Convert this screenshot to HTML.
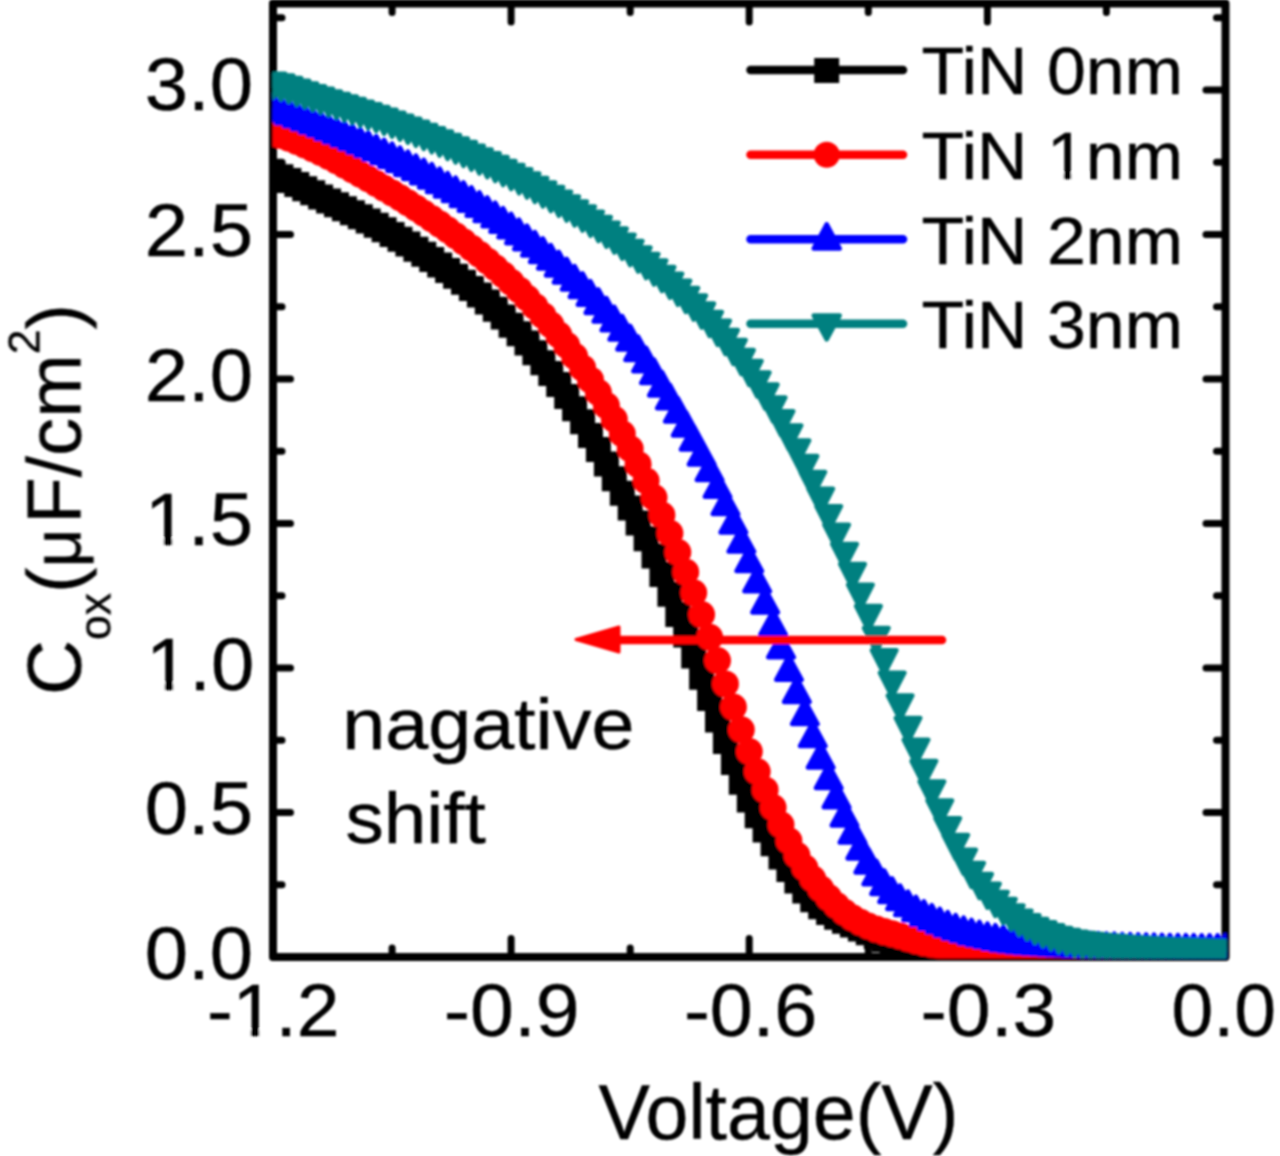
<!DOCTYPE html>
<html><head><meta charset="utf-8"><style>html,body{margin:0;padding:0;background:#fff;}body{width:1280px;height:1156px;position:relative;overflow:hidden;}</style></head>
<body>
<svg width="1280" height="1156" viewBox="0 0 1280 1156" style="position:absolute;left:0;top:0"><defs><clipPath id="pc"><rect x="272.5" y="4" width="954" height="954.5"/></clipPath><filter id="bl" x="-5%" y="-5%" width="110%" height="110%"><feGaussianBlur stdDeviation="1.2"/></filter></defs><rect width="1280" height="1156" fill="#fff"/><g filter="url(#bl)"><path d="M273.0 957.0H290.5M1225.5 957.0H1206.0M273.0 812.5H290.5M1225.5 812.5H1206.0M273.0 668.0H290.5M1225.5 668.0H1206.0M273.0 523.5H290.5M1225.5 523.5H1206.0M273.0 379.0H290.5M1225.5 379.0H1206.0M273.0 234.5H290.5M1225.5 234.5H1206.0M273.0 90.0H290.5M1225.5 90.0H1206.0M273.0 884.8H282.0M1225.5 884.8H1216.5M273.0 740.2H282.0M1225.5 740.2H1216.5M273.0 595.8H282.0M1225.5 595.8H1216.5M273.0 451.2H282.0M1225.5 451.2H1216.5M273.0 306.8H282.0M1225.5 306.8H1216.5M273.0 162.2H282.0M1225.5 162.2H1216.5M273.0 17.8H282.0M1225.5 17.8H1216.5M273.0 957.0V938.5M273.0 3.4V21.9M511.1 957.0V938.5M511.1 3.4V21.9M749.2 957.0V938.5M749.2 3.4V21.9M987.4 957.0V938.5M987.4 3.4V21.9M1225.5 957.0V938.5M1225.5 3.4V21.9M392.1 957.0V948.0M392.1 3.4V12.4M630.2 957.0V948.0M630.2 3.4V12.4M868.3 957.0V948.0M868.3 3.4V12.4M1106.4 957.0V948.0M1106.4 3.4V12.4" stroke="#000" stroke-width="7" stroke-linecap="round" fill="none"/><rect x="273.0" y="3.4" width="952.5" height="953.6" fill="none" stroke="#000" stroke-width="8" stroke-linejoin="round"/><g clip-path="url(#pc)"><path d="M260.5 161.4h25v25h-25zM268.4 164.2h25v25h-25zM276.4 168.0h25v25h-25zM284.3 172.1h25v25h-25zM292.2 176.2h25v25h-25zM300.2 180.3h25v25h-25zM308.1 184.4h25v25h-25zM316.1 188.4h25v25h-25zM324.0 192.3h25v25h-25zM331.9 196.2h25v25h-25zM339.9 200.2h25v25h-25zM347.8 204.2h25v25h-25zM355.7 208.4h25v25h-25zM363.7 212.8h25v25h-25zM371.6 217.3h25v25h-25zM379.6 222.0h25v25h-25zM387.5 226.8h25v25h-25zM395.4 231.6h25v25h-25zM403.4 236.7h25v25h-25zM411.3 241.8h25v25h-25zM419.2 247.0h25v25h-25zM427.2 252.4h25v25h-25zM435.1 258.0h25v25h-25zM443.1 263.7h25v25h-25zM451.0 269.7h25v25h-25zM458.9 276.0h25v25h-25zM466.9 282.6h25v25h-25zM474.8 289.5h25v25h-25zM482.8 296.8h25v25h-25zM490.7 304.5h25v25h-25zM498.6 312.7h25v25h-25zM506.6 321.3h25v25h-25zM514.5 330.5h25v25h-25zM522.4 340.2h25v25h-25zM530.4 350.3h25v25h-25zM538.3 361.0h25v25h-25zM546.2 372.1h25v25h-25zM554.2 383.9h25v25h-25zM562.1 396.2h25v25h-25zM570.1 409.3h25v25h-25zM578.0 422.9h25v25h-25zM585.9 437.1h25v25h-25zM593.9 451.6h25v25h-25zM601.8 466.2h25v25h-25zM609.8 480.8h25v25h-25zM617.7 495.5h25v25h-25zM625.6 510.5h25v25h-25zM633.6 526.3h25v25h-25zM641.5 543.4h25v25h-25zM649.4 562.0h25v25h-25zM657.4 581.7h25v25h-25zM665.3 601.9h25v25h-25zM673.2 622.5h25v25h-25zM681.2 643.6h25v25h-25zM689.1 664.8h25v25h-25zM697.1 686.1h25v25h-25zM705.0 707.5h25v25h-25zM712.9 728.9h25v25h-25zM720.9 749.9h25v25h-25zM728.8 769.7h25v25h-25zM736.8 787.6h25v25h-25zM744.7 803.3h25v25h-25zM752.6 817.5h25v25h-25zM760.6 831.2h25v25h-25zM768.5 844.5h25v25h-25zM776.4 857.1h25v25h-25zM784.4 868.5h25v25h-25zM792.3 878.5h25v25h-25zM800.2 887.2h25v25h-25zM808.2 894.3h25v25h-25zM816.1 900.1h25v25h-25zM824.1 904.8h25v25h-25zM832.0 908.7h25v25h-25zM839.9 912.5h25v25h-25zM847.9 916.4h25v25h-25zM855.8 920.3h25v25h-25zM863.8 924.0h25v25h-25zM871.7 927.3h25v25h-25zM879.6 930.0h25v25h-25zM887.6 932.2h25v25h-25zM895.5 933.9h25v25h-25zM903.4 935.4h25v25h-25zM911.4 936.7h25v25h-25zM919.3 937.8h25v25h-25zM927.2 938.7h25v25h-25zM935.2 939.6h25v25h-25zM943.1 940.3h25v25h-25zM951.1 940.9h25v25h-25zM959.0 941.4h25v25h-25zM966.9 941.8h25v25h-25zM974.9 942.1h25v25h-25zM982.8 942.3h25v25h-25zM990.8 942.5h25v25h-25zM998.7 942.7h25v25h-25zM1006.6 942.9h25v25h-25zM1014.6 943.0h25v25h-25zM1022.5 943.1h25v25h-25zM1030.4 943.3h25v25h-25zM1038.4 943.4h25v25h-25zM1046.3 943.5h25v25h-25zM1054.2 943.6h25v25h-25zM1062.2 943.7h25v25h-25zM1070.1 943.8h25v25h-25zM1078.1 943.8h25v25h-25zM1086.0 943.9h25v25h-25zM1093.9 944.0h25v25h-25zM1101.9 944.1h25v25h-25zM1109.8 944.1h25v25h-25zM1117.8 944.2h25v25h-25zM1125.7 944.2h25v25h-25zM1133.6 944.3h25v25h-25zM1141.6 944.3h25v25h-25zM1149.5 944.4h25v25h-25zM1157.4 944.4h25v25h-25zM1165.4 944.4h25v25h-25zM1173.3 944.4h25v25h-25zM1181.2 944.5h25v25h-25zM1189.2 944.5h25v25h-25zM1197.1 944.5h25v25h-25zM1205.1 944.5h25v25h-25zM1213.0 944.5h25v25h-25z" fill="#000000"/><path d="M259.5 133.4a13.5 13.5 0 1 0 27 0a13.5 13.5 0 1 0 -27 0zM267.4 135.4a13.5 13.5 0 1 0 27 0a13.5 13.5 0 1 0 -27 0zM275.4 138.3a13.5 13.5 0 1 0 27 0a13.5 13.5 0 1 0 -27 0zM283.3 141.5a13.5 13.5 0 1 0 27 0a13.5 13.5 0 1 0 -27 0zM291.2 145.0a13.5 13.5 0 1 0 27 0a13.5 13.5 0 1 0 -27 0zM299.2 148.6a13.5 13.5 0 1 0 27 0a13.5 13.5 0 1 0 -27 0zM307.1 152.5a13.5 13.5 0 1 0 27 0a13.5 13.5 0 1 0 -27 0zM315.1 156.5a13.5 13.5 0 1 0 27 0a13.5 13.5 0 1 0 -27 0zM323.0 160.7a13.5 13.5 0 1 0 27 0a13.5 13.5 0 1 0 -27 0zM330.9 165.1a13.5 13.5 0 1 0 27 0a13.5 13.5 0 1 0 -27 0zM338.9 169.6a13.5 13.5 0 1 0 27 0a13.5 13.5 0 1 0 -27 0zM346.8 174.2a13.5 13.5 0 1 0 27 0a13.5 13.5 0 1 0 -27 0zM354.7 178.8a13.5 13.5 0 1 0 27 0a13.5 13.5 0 1 0 -27 0zM362.7 183.5a13.5 13.5 0 1 0 27 0a13.5 13.5 0 1 0 -27 0zM370.6 188.2a13.5 13.5 0 1 0 27 0a13.5 13.5 0 1 0 -27 0zM378.6 192.9a13.5 13.5 0 1 0 27 0a13.5 13.5 0 1 0 -27 0zM386.5 197.8a13.5 13.5 0 1 0 27 0a13.5 13.5 0 1 0 -27 0zM394.4 202.8a13.5 13.5 0 1 0 27 0a13.5 13.5 0 1 0 -27 0zM402.4 207.9a13.5 13.5 0 1 0 27 0a13.5 13.5 0 1 0 -27 0zM410.3 213.2a13.5 13.5 0 1 0 27 0a13.5 13.5 0 1 0 -27 0zM418.2 218.6a13.5 13.5 0 1 0 27 0a13.5 13.5 0 1 0 -27 0zM426.2 224.1a13.5 13.5 0 1 0 27 0a13.5 13.5 0 1 0 -27 0zM434.1 229.8a13.5 13.5 0 1 0 27 0a13.5 13.5 0 1 0 -27 0zM442.1 235.7a13.5 13.5 0 1 0 27 0a13.5 13.5 0 1 0 -27 0zM450.0 241.7a13.5 13.5 0 1 0 27 0a13.5 13.5 0 1 0 -27 0zM457.9 247.9a13.5 13.5 0 1 0 27 0a13.5 13.5 0 1 0 -27 0zM465.9 254.3a13.5 13.5 0 1 0 27 0a13.5 13.5 0 1 0 -27 0zM473.8 260.9a13.5 13.5 0 1 0 27 0a13.5 13.5 0 1 0 -27 0zM481.8 267.7a13.5 13.5 0 1 0 27 0a13.5 13.5 0 1 0 -27 0zM489.7 274.8a13.5 13.5 0 1 0 27 0a13.5 13.5 0 1 0 -27 0zM497.6 282.2a13.5 13.5 0 1 0 27 0a13.5 13.5 0 1 0 -27 0zM505.6 289.9a13.5 13.5 0 1 0 27 0a13.5 13.5 0 1 0 -27 0zM513.5 298.0a13.5 13.5 0 1 0 27 0a13.5 13.5 0 1 0 -27 0zM521.4 306.4a13.5 13.5 0 1 0 27 0a13.5 13.5 0 1 0 -27 0zM529.4 315.4a13.5 13.5 0 1 0 27 0a13.5 13.5 0 1 0 -27 0zM537.3 324.8a13.5 13.5 0 1 0 27 0a13.5 13.5 0 1 0 -27 0zM545.2 334.8a13.5 13.5 0 1 0 27 0a13.5 13.5 0 1 0 -27 0zM553.2 345.3a13.5 13.5 0 1 0 27 0a13.5 13.5 0 1 0 -27 0zM561.1 356.3a13.5 13.5 0 1 0 27 0a13.5 13.5 0 1 0 -27 0zM569.1 367.9a13.5 13.5 0 1 0 27 0a13.5 13.5 0 1 0 -27 0zM577.0 379.9a13.5 13.5 0 1 0 27 0a13.5 13.5 0 1 0 -27 0zM584.9 392.5a13.5 13.5 0 1 0 27 0a13.5 13.5 0 1 0 -27 0zM592.9 405.6a13.5 13.5 0 1 0 27 0a13.5 13.5 0 1 0 -27 0zM600.8 419.3a13.5 13.5 0 1 0 27 0a13.5 13.5 0 1 0 -27 0zM608.8 433.7a13.5 13.5 0 1 0 27 0a13.5 13.5 0 1 0 -27 0zM616.7 448.8a13.5 13.5 0 1 0 27 0a13.5 13.5 0 1 0 -27 0zM624.6 464.4a13.5 13.5 0 1 0 27 0a13.5 13.5 0 1 0 -27 0zM632.6 480.7a13.5 13.5 0 1 0 27 0a13.5 13.5 0 1 0 -27 0zM640.5 497.5a13.5 13.5 0 1 0 27 0a13.5 13.5 0 1 0 -27 0zM648.4 515.0a13.5 13.5 0 1 0 27 0a13.5 13.5 0 1 0 -27 0zM656.4 533.2a13.5 13.5 0 1 0 27 0a13.5 13.5 0 1 0 -27 0zM664.3 552.3a13.5 13.5 0 1 0 27 0a13.5 13.5 0 1 0 -27 0zM672.2 572.1a13.5 13.5 0 1 0 27 0a13.5 13.5 0 1 0 -27 0zM680.2 592.8a13.5 13.5 0 1 0 27 0a13.5 13.5 0 1 0 -27 0zM688.1 614.5a13.5 13.5 0 1 0 27 0a13.5 13.5 0 1 0 -27 0zM696.1 637.2a13.5 13.5 0 1 0 27 0a13.5 13.5 0 1 0 -27 0zM704.0 660.5a13.5 13.5 0 1 0 27 0a13.5 13.5 0 1 0 -27 0zM711.9 683.9a13.5 13.5 0 1 0 27 0a13.5 13.5 0 1 0 -27 0zM719.9 707.1a13.5 13.5 0 1 0 27 0a13.5 13.5 0 1 0 -27 0zM727.8 729.8a13.5 13.5 0 1 0 27 0a13.5 13.5 0 1 0 -27 0zM735.8 751.5a13.5 13.5 0 1 0 27 0a13.5 13.5 0 1 0 -27 0zM743.7 771.5a13.5 13.5 0 1 0 27 0a13.5 13.5 0 1 0 -27 0zM751.6 789.9a13.5 13.5 0 1 0 27 0a13.5 13.5 0 1 0 -27 0zM759.6 807.5a13.5 13.5 0 1 0 27 0a13.5 13.5 0 1 0 -27 0zM767.5 824.7a13.5 13.5 0 1 0 27 0a13.5 13.5 0 1 0 -27 0zM775.4 840.8a13.5 13.5 0 1 0 27 0a13.5 13.5 0 1 0 -27 0zM783.4 855.3a13.5 13.5 0 1 0 27 0a13.5 13.5 0 1 0 -27 0zM791.3 867.8a13.5 13.5 0 1 0 27 0a13.5 13.5 0 1 0 -27 0zM799.2 878.8a13.5 13.5 0 1 0 27 0a13.5 13.5 0 1 0 -27 0zM807.2 888.7a13.5 13.5 0 1 0 27 0a13.5 13.5 0 1 0 -27 0zM815.1 897.6a13.5 13.5 0 1 0 27 0a13.5 13.5 0 1 0 -27 0zM823.1 905.5a13.5 13.5 0 1 0 27 0a13.5 13.5 0 1 0 -27 0zM831.0 912.2a13.5 13.5 0 1 0 27 0a13.5 13.5 0 1 0 -27 0zM838.9 917.7a13.5 13.5 0 1 0 27 0a13.5 13.5 0 1 0 -27 0zM846.9 922.3a13.5 13.5 0 1 0 27 0a13.5 13.5 0 1 0 -27 0zM854.8 926.0a13.5 13.5 0 1 0 27 0a13.5 13.5 0 1 0 -27 0zM862.8 929.1a13.5 13.5 0 1 0 27 0a13.5 13.5 0 1 0 -27 0zM870.7 931.6a13.5 13.5 0 1 0 27 0a13.5 13.5 0 1 0 -27 0zM878.6 933.8a13.5 13.5 0 1 0 27 0a13.5 13.5 0 1 0 -27 0zM886.6 936.0a13.5 13.5 0 1 0 27 0a13.5 13.5 0 1 0 -27 0zM894.5 938.4a13.5 13.5 0 1 0 27 0a13.5 13.5 0 1 0 -27 0zM902.4 940.8a13.5 13.5 0 1 0 27 0a13.5 13.5 0 1 0 -27 0zM910.4 942.8a13.5 13.5 0 1 0 27 0a13.5 13.5 0 1 0 -27 0zM918.3 944.3a13.5 13.5 0 1 0 27 0a13.5 13.5 0 1 0 -27 0zM926.2 945.5a13.5 13.5 0 1 0 27 0a13.5 13.5 0 1 0 -27 0zM934.2 946.4a13.5 13.5 0 1 0 27 0a13.5 13.5 0 1 0 -27 0zM942.1 947.2a13.5 13.5 0 1 0 27 0a13.5 13.5 0 1 0 -27 0zM950.1 947.8a13.5 13.5 0 1 0 27 0a13.5 13.5 0 1 0 -27 0zM958.0 948.4a13.5 13.5 0 1 0 27 0a13.5 13.5 0 1 0 -27 0zM965.9 948.9a13.5 13.5 0 1 0 27 0a13.5 13.5 0 1 0 -27 0zM973.9 949.4a13.5 13.5 0 1 0 27 0a13.5 13.5 0 1 0 -27 0zM981.8 949.8a13.5 13.5 0 1 0 27 0a13.5 13.5 0 1 0 -27 0zM989.8 950.1a13.5 13.5 0 1 0 27 0a13.5 13.5 0 1 0 -27 0zM997.7 950.5a13.5 13.5 0 1 0 27 0a13.5 13.5 0 1 0 -27 0zM1005.6 950.8a13.5 13.5 0 1 0 27 0a13.5 13.5 0 1 0 -27 0zM1013.6 951.1a13.5 13.5 0 1 0 27 0a13.5 13.5 0 1 0 -27 0zM1021.5 951.5a13.5 13.5 0 1 0 27 0a13.5 13.5 0 1 0 -27 0zM1029.4 951.7a13.5 13.5 0 1 0 27 0a13.5 13.5 0 1 0 -27 0zM1037.4 952.0a13.5 13.5 0 1 0 27 0a13.5 13.5 0 1 0 -27 0zM1045.3 952.3a13.5 13.5 0 1 0 27 0a13.5 13.5 0 1 0 -27 0zM1053.2 952.5a13.5 13.5 0 1 0 27 0a13.5 13.5 0 1 0 -27 0zM1061.2 952.8a13.5 13.5 0 1 0 27 0a13.5 13.5 0 1 0 -27 0zM1069.1 953.0a13.5 13.5 0 1 0 27 0a13.5 13.5 0 1 0 -27 0zM1077.1 953.2a13.5 13.5 0 1 0 27 0a13.5 13.5 0 1 0 -27 0zM1085.0 953.4a13.5 13.5 0 1 0 27 0a13.5 13.5 0 1 0 -27 0zM1092.9 953.6a13.5 13.5 0 1 0 27 0a13.5 13.5 0 1 0 -27 0zM1100.9 953.8a13.5 13.5 0 1 0 27 0a13.5 13.5 0 1 0 -27 0zM1108.8 953.9a13.5 13.5 0 1 0 27 0a13.5 13.5 0 1 0 -27 0zM1116.8 954.1a13.5 13.5 0 1 0 27 0a13.5 13.5 0 1 0 -27 0zM1124.7 954.2a13.5 13.5 0 1 0 27 0a13.5 13.5 0 1 0 -27 0zM1132.6 954.4a13.5 13.5 0 1 0 27 0a13.5 13.5 0 1 0 -27 0zM1140.6 954.5a13.5 13.5 0 1 0 27 0a13.5 13.5 0 1 0 -27 0zM1148.5 954.6a13.5 13.5 0 1 0 27 0a13.5 13.5 0 1 0 -27 0zM1156.4 954.7a13.5 13.5 0 1 0 27 0a13.5 13.5 0 1 0 -27 0zM1164.4 954.7a13.5 13.5 0 1 0 27 0a13.5 13.5 0 1 0 -27 0zM1172.3 954.8a13.5 13.5 0 1 0 27 0a13.5 13.5 0 1 0 -27 0zM1180.2 954.9a13.5 13.5 0 1 0 27 0a13.5 13.5 0 1 0 -27 0zM1188.2 954.9a13.5 13.5 0 1 0 27 0a13.5 13.5 0 1 0 -27 0zM1196.1 955.0a13.5 13.5 0 1 0 27 0a13.5 13.5 0 1 0 -27 0zM1204.1 955.0a13.5 13.5 0 1 0 27 0a13.5 13.5 0 1 0 -27 0zM1212.0 955.0a13.5 13.5 0 1 0 27 0a13.5 13.5 0 1 0 -27 0z" fill="#ff0000"/><path d="M273.0 95.1L285.8 118.6L260.2 118.6zM280.9 97.0L293.7 120.5L268.2 120.5zM288.9 99.7L301.6 123.2L276.1 123.2zM296.8 102.7L309.6 126.2L284.1 126.2zM304.8 105.8L317.5 129.3L292.0 129.3zM312.7 108.9L325.4 132.4L299.9 132.4zM320.6 112.1L333.4 135.6L307.9 135.6zM328.6 115.4L341.3 138.9L315.8 138.9zM336.5 118.7L349.3 142.2L323.8 142.2zM344.4 122.0L357.2 145.5L331.7 145.5zM352.4 125.4L365.1 148.9L339.6 148.9zM360.3 128.9L373.1 152.4L347.6 152.4zM368.2 132.4L381.0 155.9L355.5 155.9zM376.2 136.1L388.9 159.6L363.4 159.6zM384.1 139.8L396.9 163.3L371.4 163.3zM392.1 143.6L404.8 167.1L379.3 167.1zM400.0 147.5L412.7 171.0L387.2 171.0zM407.9 151.5L420.7 175.0L395.2 175.0zM415.9 155.6L428.6 179.1L403.1 179.1zM423.8 159.8L436.6 183.3L411.1 183.3zM431.8 164.1L444.5 187.6L419.0 187.6zM439.7 168.5L452.4 192.0L426.9 192.0zM447.6 173.0L460.4 196.5L434.9 196.5zM455.6 177.6L468.3 201.1L442.8 201.1zM463.5 182.4L476.2 205.9L450.8 205.9zM471.4 187.3L484.2 210.8L458.7 210.8zM479.4 192.3L492.1 215.8L466.6 215.8zM487.3 197.4L500.1 220.9L474.6 220.9zM495.2 202.7L508.0 226.2L482.5 226.2zM503.2 208.2L515.9 231.7L490.4 231.7zM511.1 213.8L523.9 237.3L498.4 237.3zM519.1 219.7L531.8 243.2L506.3 243.2zM527.0 225.7L539.8 249.2L514.2 249.2zM534.9 232.0L547.7 255.5L522.2 255.5zM542.9 238.4L555.6 261.9L530.1 261.9zM550.8 245.0L563.6 268.5L538.1 268.5zM558.8 251.9L571.5 275.4L546.0 275.4zM566.7 258.9L579.4 282.4L553.9 282.4zM574.6 266.0L587.4 289.5L561.9 289.5zM582.6 273.4L595.3 296.9L569.8 296.9zM590.5 281.2L603.2 304.7L577.8 304.7zM598.4 289.4L611.2 312.9L585.7 312.9zM606.4 298.0L619.1 321.5L593.6 321.5zM614.3 306.8L627.1 330.3L601.6 330.3zM622.2 316.0L635.0 339.5L609.5 339.5zM630.2 325.9L642.9 349.4L617.4 349.4zM638.1 336.5L650.9 360.0L625.4 360.0zM646.1 347.8L658.8 371.3L633.3 371.3zM654.0 359.6L666.8 383.1L641.2 383.1zM661.9 371.9L674.7 395.4L649.2 395.4zM669.9 384.8L682.6 408.3L657.1 408.3zM677.8 398.1L690.6 421.6L665.1 421.6zM685.8 411.9L698.5 435.4L673.0 435.4zM693.7 426.1L706.4 449.6L680.9 449.6zM701.6 440.9L714.4 464.4L688.9 464.4zM709.6 456.6L722.3 480.1L696.8 480.1zM717.5 473.2L730.2 496.7L704.8 496.7zM725.4 490.6L738.2 514.1L712.7 514.1zM733.4 508.9L746.1 532.4L720.6 532.4zM741.3 528.0L754.1 551.5L728.6 551.5zM749.2 547.6L762.0 571.1L736.5 571.1zM757.2 567.8L769.9 591.3L744.4 591.3zM765.1 588.9L777.9 612.4L752.4 612.4zM773.1 611.0L785.8 634.5L760.3 634.5zM781.0 633.8L793.8 657.3L768.2 657.3zM788.9 656.3L801.7 679.8L776.2 679.8zM796.9 678.4L809.6 701.9L784.1 701.9zM804.8 700.5L817.6 724.0L792.1 724.0zM812.8 722.6L825.5 746.1L800.0 746.1zM820.7 744.1L833.4 767.6L807.9 767.6zM828.6 764.5L841.4 788.0L815.9 788.0zM836.6 783.7L849.3 807.2L823.8 807.2zM844.5 801.9L857.2 825.4L831.8 825.4zM852.4 819.1L865.2 842.6L839.7 842.6zM860.4 834.9L873.1 858.4L847.6 858.4zM868.3 848.9L881.1 872.4L855.6 872.4zM876.2 860.7L889.0 884.2L863.5 884.2zM884.2 870.4L896.9 893.9L871.4 893.9zM892.1 878.4L904.9 901.9L879.4 901.9zM900.1 885.5L912.8 909.0L887.3 909.0zM908.0 891.5L920.8 915.0L895.2 915.0zM915.9 896.8L928.7 920.3L903.2 920.3zM923.9 901.3L936.6 924.8L911.1 924.8zM931.8 905.2L944.6 928.7L919.1 928.7zM939.8 908.8L952.5 932.3L927.0 932.3zM947.7 912.1L960.4 935.6L934.9 935.6zM955.6 915.0L968.4 938.5L942.9 938.5zM963.6 917.6L976.3 941.1L950.8 941.1zM971.5 919.9L984.2 943.4L958.8 943.4zM979.4 921.8L992.2 945.3L966.7 945.3zM987.4 923.6L1000.1 947.1L974.6 947.1zM995.3 925.2L1008.1 948.7L982.6 948.7zM1003.2 926.7L1016.0 950.2L990.5 950.2zM1011.2 927.8L1023.9 951.3L998.4 951.3zM1019.1 928.7L1031.9 952.2L1006.4 952.2zM1027.1 929.4L1039.8 952.9L1014.3 952.9zM1035.0 930.0L1047.8 953.5L1022.2 953.5zM1042.9 930.5L1055.7 954.0L1030.2 954.0zM1050.9 931.0L1063.6 954.5L1038.1 954.5zM1058.8 931.4L1071.6 954.9L1046.1 954.9zM1066.8 931.8L1079.5 955.3L1054.0 955.3zM1074.7 932.2L1087.4 955.7L1061.9 955.7zM1082.6 932.6L1095.4 956.1L1069.9 956.1zM1090.6 932.9L1103.3 956.4L1077.8 956.4zM1098.5 933.2L1111.2 956.7L1085.8 956.7zM1106.4 933.5L1119.2 957.0L1093.7 957.0zM1114.4 933.7L1127.1 957.2L1101.6 957.2zM1122.3 934.0L1135.1 957.5L1109.6 957.5zM1130.2 934.2L1143.0 957.7L1117.5 957.7zM1138.2 934.4L1150.9 957.9L1125.4 957.9zM1146.1 934.6L1158.9 958.1L1133.4 958.1zM1154.1 934.7L1166.8 958.2L1141.3 958.2zM1162.0 934.9L1174.8 958.4L1149.2 958.4zM1169.9 935.0L1182.7 958.5L1157.2 958.5zM1177.9 935.1L1190.6 958.6L1165.1 958.6zM1185.8 935.2L1198.6 958.7L1173.1 958.7zM1193.8 935.2L1206.5 958.7L1181.0 958.7zM1201.7 935.3L1214.4 958.8L1188.9 958.8zM1209.6 935.3L1222.4 958.8L1196.9 958.8zM1217.6 935.3L1230.3 958.8L1204.8 958.8zM1225.5 935.3L1238.2 958.8L1212.8 958.8z" fill="#0000ff" stroke="#0000ff" stroke-width="4.5" stroke-linejoin="round"/><path d="M273.0 97.7L285.2 73.7L260.8 73.7zM280.9 99.6L293.2 75.6L268.7 75.6zM288.9 102.1L301.1 78.1L276.6 78.1zM296.8 104.8L309.1 80.8L284.6 80.8zM304.8 107.5L317.0 83.5L292.5 83.5zM312.7 110.2L324.9 86.2L300.4 86.2zM320.6 112.8L332.9 88.8L308.4 88.8zM328.6 115.4L340.8 91.4L316.3 91.4zM336.5 117.9L348.8 93.9L324.3 93.9zM344.4 120.5L356.7 96.5L332.2 96.5zM352.4 123.1L364.6 99.1L340.1 99.1zM360.3 125.7L372.6 101.7L348.1 101.7zM368.2 128.3L380.5 104.3L356.0 104.3zM376.2 131.0L388.4 107.0L363.9 107.0zM384.1 133.8L396.4 109.8L371.9 109.8zM392.1 136.7L404.3 112.7L379.8 112.7zM400.0 139.7L412.2 115.7L387.7 115.7zM407.9 142.7L420.2 118.7L395.7 118.7zM415.9 145.8L428.1 121.8L403.6 121.8zM423.8 149.0L436.1 125.0L411.6 125.0zM431.8 152.3L444.0 128.3L419.5 128.3zM439.7 155.6L451.9 131.6L427.4 131.6zM447.6 159.0L459.9 135.0L435.4 135.0zM455.6 162.5L467.8 138.5L443.3 138.5zM463.5 166.0L475.8 142.0L451.2 142.0zM471.4 169.7L483.7 145.7L459.2 145.7zM479.4 173.4L491.6 149.4L467.1 149.4zM487.3 177.2L499.6 153.2L475.1 153.2zM495.2 181.1L507.5 157.1L483.0 157.1zM503.2 185.1L515.4 161.1L490.9 161.1zM511.1 189.1L523.4 165.1L498.9 165.1zM519.1 193.3L531.3 169.3L506.8 169.3zM527.0 197.6L539.2 173.6L514.8 173.6zM534.9 202.0L547.2 178.0L522.7 178.0zM542.9 206.5L555.1 182.5L530.6 182.5zM550.8 211.1L563.1 187.1L538.6 187.1zM558.8 215.8L571.0 191.8L546.5 191.8zM566.7 220.6L578.9 196.6L554.4 196.6zM574.6 225.5L586.9 201.5L562.4 201.5zM582.6 230.6L594.8 206.6L570.3 206.6zM590.5 235.8L602.8 211.8L578.2 211.8zM598.4 241.1L610.7 217.1L586.2 217.1zM606.4 246.7L618.6 222.7L594.1 222.7zM614.3 252.6L626.6 228.6L602.1 228.6zM622.2 258.8L634.5 234.8L610.0 234.8zM630.2 265.1L642.4 241.1L617.9 241.1zM638.1 271.6L650.4 247.6L625.9 247.6zM646.1 278.1L658.3 254.1L633.8 254.1zM654.0 284.6L666.2 260.6L641.8 260.6zM661.9 291.1L674.2 267.1L649.7 267.1zM669.9 297.8L682.1 273.8L657.6 273.8zM677.8 304.8L690.1 280.8L665.6 280.8zM685.8 312.0L698.0 288.0L673.5 288.0zM693.7 319.6L705.9 295.6L681.4 295.6zM701.6 327.6L713.9 303.6L689.4 303.6zM709.6 336.0L721.8 312.0L697.3 312.0zM717.5 344.8L729.8 320.8L705.2 320.8zM725.4 354.1L737.7 330.1L713.2 330.1zM733.4 363.9L745.6 339.9L721.1 339.9zM741.3 374.1L753.6 350.1L729.1 350.1zM749.2 385.0L761.5 361.0L737.0 361.0zM757.2 396.4L769.4 372.4L744.9 372.4zM765.1 408.6L777.4 384.6L752.9 384.6zM773.1 421.5L785.3 397.5L760.8 397.5zM781.0 435.2L793.2 411.2L768.8 411.2zM788.9 449.5L801.2 425.5L776.7 425.5zM796.9 464.5L809.1 440.5L784.6 440.5zM804.8 480.1L817.1 456.1L792.6 456.1zM812.8 496.1L825.0 472.1L800.5 472.1zM820.7 512.8L832.9 488.8L808.4 488.8zM828.6 530.2L840.9 506.2L816.4 506.2zM836.6 548.7L848.8 524.7L824.3 524.7zM844.5 568.0L856.8 544.0L832.2 544.0zM852.4 588.1L864.7 564.1L840.2 564.1zM860.4 608.8L872.6 584.8L848.1 584.8zM868.3 630.1L880.6 606.1L856.1 606.1zM876.2 652.0L888.5 628.0L864.0 628.0zM884.2 674.3L896.4 650.3L871.9 650.3zM892.1 696.8L904.4 672.8L879.9 672.8zM900.1 719.5L912.3 695.5L887.8 695.5zM908.0 741.9L920.2 717.9L895.8 717.9zM915.9 763.8L928.2 739.8L903.7 739.8zM923.9 785.1L936.1 761.1L911.6 761.1zM931.8 805.4L944.1 781.4L919.6 781.4zM939.8 824.5L952.0 800.5L927.5 800.5zM947.7 842.3L959.9 818.3L935.4 818.3zM955.6 858.9L967.9 834.9L943.4 834.9zM963.6 873.8L975.8 849.8L951.3 849.8zM971.5 886.9L983.8 862.9L959.2 862.9zM979.4 898.1L991.7 874.1L967.2 874.1zM987.4 907.7L999.6 883.7L975.1 883.7zM995.3 915.9L1007.6 891.9L983.1 891.9zM1003.2 923.1L1015.5 899.1L991.0 899.1zM1011.2 929.4L1023.4 905.4L998.9 905.4zM1019.1 934.8L1031.4 910.8L1006.9 910.8zM1027.1 939.2L1039.3 915.2L1014.8 915.2zM1035.0 943.0L1047.2 919.0L1022.8 919.0zM1042.9 946.3L1055.2 922.3L1030.7 922.3zM1050.9 949.3L1063.1 925.3L1038.6 925.3zM1058.8 951.9L1071.1 927.9L1046.6 927.9zM1066.8 954.0L1079.0 930.0L1054.5 930.0zM1074.7 955.7L1086.9 931.7L1062.4 931.7zM1082.6 957.0L1094.9 933.0L1070.4 933.0zM1090.6 958.1L1102.8 934.1L1078.3 934.1zM1098.5 959.0L1110.8 935.0L1086.2 935.0zM1106.4 959.7L1118.7 935.7L1094.2 935.7zM1114.4 960.3L1126.6 936.3L1102.1 936.3zM1122.3 961.0L1134.6 937.0L1110.1 937.0zM1130.2 961.5L1142.5 937.5L1118.0 937.5zM1138.2 962.1L1150.4 938.1L1125.9 938.1zM1146.1 962.5L1158.4 938.5L1133.9 938.5zM1154.1 963.0L1166.3 939.0L1141.8 939.0zM1162.0 963.4L1174.2 939.4L1149.8 939.4zM1169.9 963.8L1182.2 939.8L1157.7 939.8zM1177.9 964.1L1190.1 940.1L1165.6 940.1zM1185.8 964.3L1198.1 940.3L1173.6 940.3zM1193.8 964.6L1206.0 940.6L1181.5 940.6zM1201.7 964.7L1213.9 940.7L1189.4 940.7zM1209.6 964.9L1221.9 940.9L1197.4 940.9zM1217.6 964.9L1229.8 940.9L1205.3 940.9zM1225.5 965.0L1237.8 941.0L1213.2 941.0z" fill="#008080" stroke="#008080" stroke-width="4.5" stroke-linejoin="round"/></g><path d="M942 640H612" stroke="#ff0000" stroke-width="8.5" stroke-linecap="round" fill="none"/><path d="M576 639.5L619 627L619 652Z" fill="#ff0000" stroke="#ff0000" stroke-width="3" stroke-linejoin="round"/><path d="M750.5 70H903" stroke="#000000" stroke-width="8.5" stroke-linecap="round"/><rect x="814.2" y="58" width="25" height="25" fill="#000000"/><path d="M750.5 154.8H903" stroke="#ff0000" stroke-width="8.5" stroke-linecap="round"/><circle cx="826.7" cy="154.8" r="13" fill="#ff0000"/><path d="M750.5 239.3H903" stroke="#0000ff" stroke-width="8.5" stroke-linecap="round"/><path d="M826.7 224.3L839.7 248.5L813.7 248.5Z" fill="#0000ff" stroke="#0000ff" stroke-width="4.5" stroke-linejoin="round"/><path d="M750.5 323.8H903" stroke="#008080" stroke-width="8.5" stroke-linecap="round"/><path d="M826.7 339.3L839.7 315.5L813.7 315.5Z" fill="#008080" stroke="#008080" stroke-width="4.5" stroke-linejoin="round"/><text x="144.8" y="978.5" font-family="Liberation Sans" font-size="74" textLength="108.3" lengthAdjust="spacingAndGlyphs" stroke="#000" stroke-width="0.4" >0.0</text><text x="144.8" y="834.0" font-family="Liberation Sans" font-size="74" textLength="108.3" lengthAdjust="spacingAndGlyphs" stroke="#000" stroke-width="0.4" >0.5</text><text x="146.0" y="689.5" font-family="Liberation Sans" font-size="74" textLength="108.3" lengthAdjust="spacingAndGlyphs" stroke="#000" stroke-width="0.4" >1.0</text><text x="144.8" y="545.0" font-family="Liberation Sans" font-size="74" textLength="108.3" lengthAdjust="spacingAndGlyphs" stroke="#000" stroke-width="0.4" >1.5</text><text x="144.8" y="400.5" font-family="Liberation Sans" font-size="74" textLength="108.3" lengthAdjust="spacingAndGlyphs" stroke="#000" stroke-width="0.4" >2.0</text><text x="144.8" y="256.0" font-family="Liberation Sans" font-size="74" textLength="108.3" lengthAdjust="spacingAndGlyphs" stroke="#000" stroke-width="0.4" >2.5</text><text x="144.8" y="109.8" font-family="Liberation Sans" font-size="74" textLength="108.3" lengthAdjust="spacingAndGlyphs" stroke="#000" stroke-width="0.4" >3.0</text><text x="206.9" y="1036.3" font-family="Liberation Sans" font-size="74" textLength="132.8" lengthAdjust="spacingAndGlyphs" stroke="#000" stroke-width="0.4" >-1.2</text><text x="443.8" y="1036.3" font-family="Liberation Sans" font-size="74" textLength="135.9" lengthAdjust="spacingAndGlyphs" stroke="#000" stroke-width="0.4" >-0.9</text><text x="683.9" y="1036.3" font-family="Liberation Sans" font-size="74" textLength="133.4" lengthAdjust="spacingAndGlyphs" stroke="#000" stroke-width="0.4" >-0.6</text><text x="920.6" y="1036.3" font-family="Liberation Sans" font-size="74" textLength="135.8" lengthAdjust="spacingAndGlyphs" stroke="#000" stroke-width="0.4" >-0.3</text><text x="1171.6" y="1036.3" font-family="Liberation Sans" font-size="74" textLength="104.4" lengthAdjust="spacingAndGlyphs" stroke="#000" stroke-width="0.4" >0.0</text><text x="921.5" y="94.3" font-family="Liberation Sans" font-size="67" textLength="261.4" lengthAdjust="spacingAndGlyphs" stroke="#000" stroke-width="0.4" >TiN 0nm</text><text x="921.5" y="179.1" font-family="Liberation Sans" font-size="67" textLength="261.4" lengthAdjust="spacingAndGlyphs" stroke="#000" stroke-width="0.4" >TiN 1nm</text><text x="921.5" y="263.6" font-family="Liberation Sans" font-size="67" textLength="261.4" lengthAdjust="spacingAndGlyphs" stroke="#000" stroke-width="0.4" >TiN 2nm</text><text x="921.5" y="348.1" font-family="Liberation Sans" font-size="67" textLength="261.4" lengthAdjust="spacingAndGlyphs" stroke="#000" stroke-width="0.4" >TiN 3nm</text><text x="342.2" y="748.6" font-family="Liberation Sans" font-size="73" textLength="292.2" lengthAdjust="spacingAndGlyphs" stroke="#000" stroke-width="0.4" >nagative</text><text x="345.4" y="842.8" font-family="Liberation Sans" font-size="73" textLength="140.5" lengthAdjust="spacingAndGlyphs" stroke="#000" stroke-width="0.4" >shift</text><text x="598.4" y="1139" font-family="Liberation Sans" font-size="78" textLength="360.1" lengthAdjust="spacingAndGlyphs" stroke="#000" stroke-width="0.4" >Voltage(V)</text><g transform="translate(80.4 695) rotate(-90)"><text x="0" y="0" font-family="Liberation Sans" font-size="76.3" stroke="#000" stroke-width="0.4">C<tspan font-size="44.5" dy="30">ox</tspan><tspan dy="-30">(</tspan><tspan font-size="68">μ</tspan><tspan dx="4.5">F/cm</tspan><tspan font-size="44.5" dy="-41">2</tspan><tspan dy="41">)</tspan></text></g><!--FOOT--><rect x="144.0" y="682.5" width="20.8" height="9.5" fill="#fff"/><rect x="173.2" y="682.5" width="18.1" height="9.5" fill="#fff"/><rect x="142.8" y="538.0" width="21.0" height="9.5" fill="#fff"/><rect x="172.2" y="538.0" width="17.9" height="9.5" fill="#fff"/><rect x="230.6" y="1029.3" width="20.2" height="9.5" fill="#fff"/><rect x="259.2" y="1029.3" width="18.2" height="9.5" fill="#fff"/><rect x="1045.0" y="172.7" width="18.8" height="8.9" fill="#fff"/><rect x="1071.2" y="172.7" width="16.6" height="8.9" fill="#fff"/><!--/FOOT--></g></svg>
</body></html>
